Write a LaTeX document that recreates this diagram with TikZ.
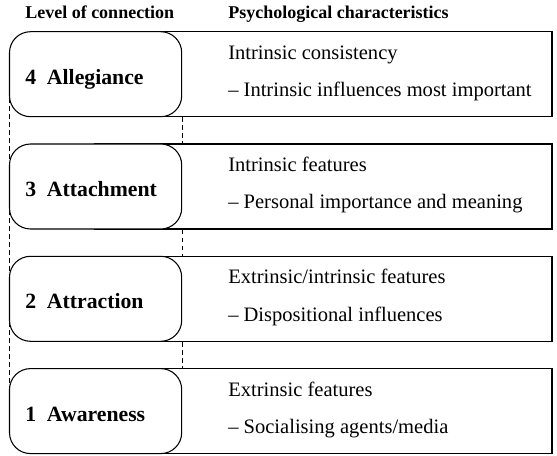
\documentclass[tikz,border=0pt]{standalone}
\usepackage{fontspec}
\setmainfont{Liberation Serif}

\pgfdeclarelayer{background}
\pgfsetlayers{background,main}

\tikzset{
  levelbox/.style={draw, line width=0.8pt, rounded corners=15.75pt, fill=white, minimum width=129.15pt, minimum height=63.75pt, inner sep=0pt},
  charbox/.style={draw, line width=0.8pt, minimum width=342.75pt, minimum height=63.75pt, inner sep=0pt},
  linkline/.style={dash pattern=on 3.5pt off 2.5pt, line width=0.6pt},
  headtxt/.style={anchor=base west, inner sep=0pt, font=\fontsize{13.5}{16}\selectfont\bfseries},
  lvltxt/.style={anchor=base west, inner sep=0pt, font=\fontsize{16.3}{19}\selectfont\bfseries},
  chartxt/.style={anchor=base west, inner sep=0pt, font=\fontsize{15.4}{18}\selectfont},
}

\begin{document}
\begin{tikzpicture}[x=0.75pt,y=0.75pt,yscale=-1,xscale=1]
\useasboundingbox (0,0) rectangle (557,456);

%Shape: Rectangle [characteristics]
\node [charbox] (c4) at (323.5,74.2) {};
\node [charbox] (c3) at (323.5,186.5) {};
\node [charbox] (c2) at (323.5,298.8) {};
\node [charbox] (c1) at (323.5,411.1) {};

%Shape: Rounded Rectangle [levels]
\node [levelbox] (b4) at (95.6,74.2) {};
\node [levelbox] (b3) at (95.6,186.5) {};
\node [levelbox] (b2) at (95.6,298.8) {};
\node [levelbox] (b1) at (95.6,411.1) {};

%Dashed Lines
\begin{pgfonlayer}{background}
\draw [linkline] (b4.west) -- (b1.west) ;
\end{pgfonlayer}
\draw [linkline] (b4.south east) -- (b3.north east) ;
\draw [linkline] (b3.south east) -- (b2.north east) ;
\draw [linkline] (b2.south east) -- (b1.north east) ;

% Text Node
\node [headtxt] (h1) at (25,19) {Level of connection};
% Text Node
\node [headtxt] (h2) at (228,19) {Psychological characteristics};

% Text Node
\node [lvltxt] (l4) at (25,84.2) {4~~Allegiance};
% Text Node
\node [lvltxt] (l3) at (25,196.5) {3~~Attachment};
% Text Node
\node [lvltxt] (l2) at (25,308.8) {2~~Attraction};
% Text Node
\node [lvltxt] (l1) at (25,421.1) {1~~Awareness};

% Text Node
\node [chartxt] (t4a) at (228,59.2) {Intrinsic consistency};
\node [chartxt] (t4b) at (228,96.7) {– Intrinsic influences most important};
% Text Node
\node [chartxt] (t3a) at (228,171.5) {Intrinsic features};
\node [chartxt] (t3b) at (228,209) {– Personal importance and meaning};
% Text Node
\node [chartxt] (t2a) at (228,283.8) {Extrinsic/intrinsic features};
\node [chartxt] (t2b) at (228,321.3) {– Dispositional influences};
% Text Node
\node [chartxt] (t1a) at (228,396.1) {Extrinsic features};
\node [chartxt] (t1b) at (228,433.6) {– Socialising agents/media};

\end{tikzpicture}
\end{document}
